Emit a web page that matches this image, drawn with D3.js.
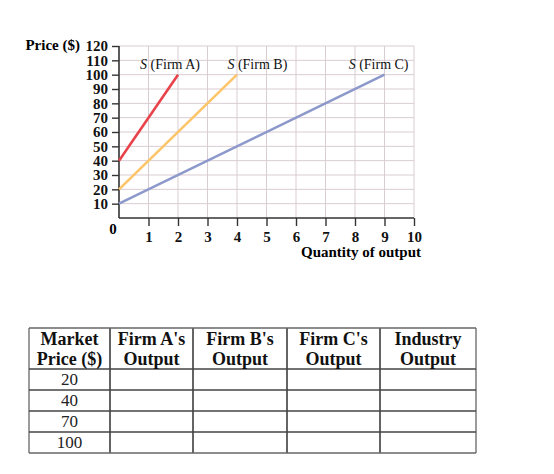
<!DOCTYPE html>
<html><head><meta charset="utf-8">
<script src="https://cdn.jsdelivr.net/npm/d3@7/dist/d3.min.js"></script>
<style>body{margin:0;background:#fff}svg{display:block}</style>
</head><body><svg id="c" width="554" height="474"></svg>
<script>
const firms = ["A","B","C"];
const supplyA = [[0,40],[2,100]];
const supplyB = [[0,20],[4,100]];
const supplyC = [[0,10],[9,100]];
const seriesColors = ["#e8434b","#fdc56a","#8d99cb"];
const labelAnchors = [[1.73,100],[4.69,100],[8.8,100]];
const yTicks = [10,20,30,40,50,60,70,80,90,100,110,120];
const xTicks = [1,2,3,4,5,6,7,8,9,10];
const tableHeader = [["Market","Price ($)"],["Firm A's","Output"],["Firm B's","Output"],["Firm C's","Output"],["Industry","Output"]];
const marketPrices = [20,40,70,100];

const svg = d3.select("#c");
const x = d3.scaleLinear().domain([0,10]).range([119,414]);
const y = d3.scaleLinear().domain([0,120]).range([218,46]);
const serif = "'Liberation Serif','Times New Roman',serif";

// grid
const g = svg.append("g");
g.selectAll(".gx").data(xTicks).enter().append("line")
 .attr("x1",d=>x(d)).attr("x2",d=>x(d)).attr("y1",y(0)).attr("y2",y(120))
 .attr("stroke","#d9ccd3").attr("stroke-width",1);
g.selectAll(".gy").data(yTicks).enter().append("line")
 .attr("x1",x(0)).attr("x2",x(10)).attr("y1",d=>y(d)).attr("y2",d=>y(d))
 .attr("stroke","#d9ccd3").attr("stroke-width",1);

// axes
const yAxis = d3.axisLeft(y).tickValues(yTicks).tickSize(7).tickPadding(4);
const ay = svg.append("g").attr("transform",`translate(${x(0)},0)`).call(yAxis);
const xAxis = d3.axisBottom(x).tickValues(xTicks).tickSize(8).tickPadding(5);
const ax = svg.append("g").attr("transform",`translate(0,${y(0)})`).call(xAxis);
[ay,ax].forEach(a=>{
  a.select(".domain").attr("stroke","#333").attr("stroke-width",1.6);
  a.selectAll(".tick line").attr("stroke","#333").attr("stroke-width",1.4);
  a.selectAll("text").attr("font-family",serif).attr("font-weight","bold").attr("font-size",15).attr("fill","#111");
});
ay.select(".domain").attr("d",`M0,${y(0)}V${y(120)}`);
ax.select(".domain").attr("d",`M${x(0)},0H${x(10)}`);

svg.append("text").attr("x",113).attr("y",234).attr("text-anchor","middle")
 .attr("font-family",serif).attr("font-weight","bold").attr("font-size",15).text("0");
svg.append("text").attr("x",80).attr("y",50).attr("text-anchor","end")
 .attr("font-family",serif).attr("font-weight","bold").attr("font-size",15).text("Price ($)");
svg.append("text").attr("x",421).attr("y",257).attr("text-anchor","end")
 .attr("font-family",serif).attr("font-weight","bold").attr("font-size",15).text("Quantity of output");

// lines
const line = d3.line().x(d=>x(d[0])).y(d=>y(d[1]));
[supplyA,supplyB,supplyC].forEach((s,i)=>{
  svg.append("path").attr("d",line(s)).attr("fill","none")
   .attr("stroke",seriesColors[i]).attr("stroke-width",2.6);
});
firms.forEach((f,i)=>{
  const t = svg.append("text").attr("x",x(labelAnchors[i][0])).attr("y",y(labelAnchors[i][1])-6)
   .attr("text-anchor","middle").attr("font-family",serif).attr("font-size",14).attr("fill","#111");
  t.append("tspan").attr("font-style","italic").text("S");
  t.append("tspan").text(` (Firm ${f})`);
});

// table
const colX = [29,110,193,287,380,476];
const rowY = [328,369,390,411,432,453];
const tg = svg.append("g");
colX.forEach((cx,i)=>tg.append("line").attr("x1",cx).attr("x2",cx).attr("y1",rowY[0]).attr("y2",rowY[rowY.length-1])
  .attr("stroke", (i==0||i==colX.length-1)?"#666":"#111").attr("stroke-width",1.3));
rowY.forEach((ry,i)=>tg.append("line").attr("x1",colX[0]).attr("x2",colX[colX.length-1]).attr("y1",ry).attr("y2",ry)
  .attr("stroke", (i==0||i==rowY.length-1)?"#666":"#444").attr("stroke-width",1.3));
tableHeader.forEach((h,i)=>{
  const cx=(colX[i]+colX[i+1])/2;
  h.forEach((s,j)=>tg.append("text").attr("x",cx).attr("y",345+j*20).attr("text-anchor","middle")
   .attr("font-family",serif).attr("font-weight","bold").attr("font-size",18).attr("fill","#111").text(s));
});
marketPrices.forEach((p,i)=>{
  tg.append("text").attr("x",(colX[0]+colX[1])/2).attr("y",rowY[i+1]+16).attr("text-anchor","middle")
   .attr("font-family",serif).attr("font-size",17).attr("fill","#222").text(p);
});
</script></body></html>
